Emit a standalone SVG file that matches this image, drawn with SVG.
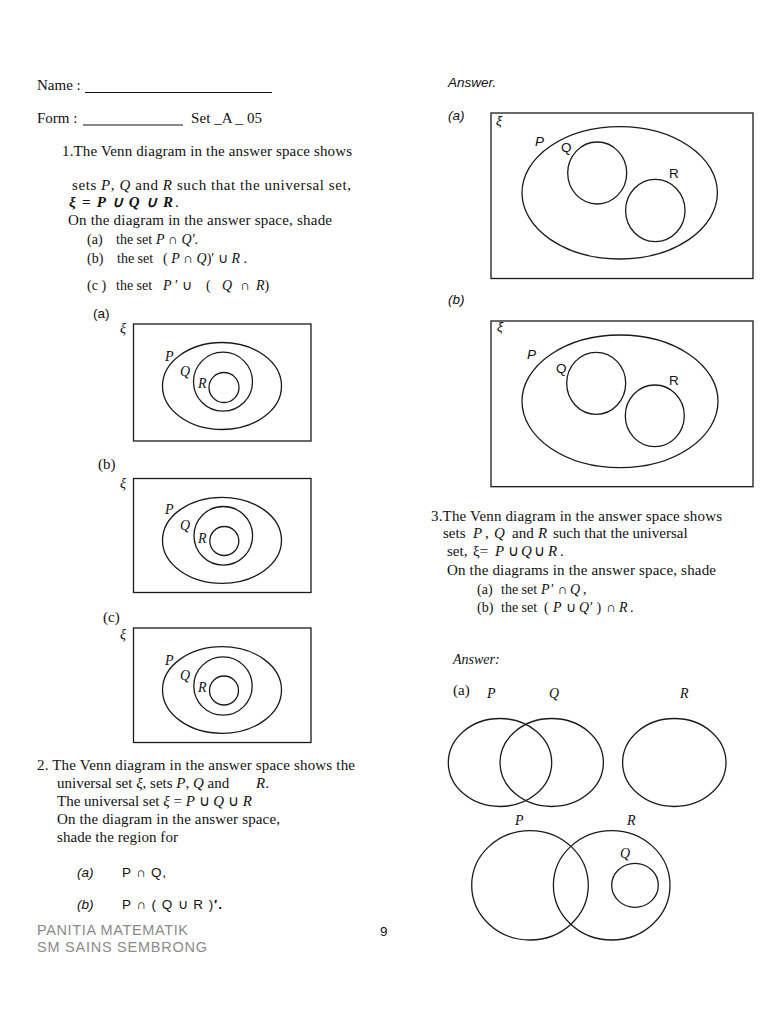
<svg xmlns="http://www.w3.org/2000/svg" width="768" height="1024" viewBox="0 0 768 1024">
<style>
.t{font-family:"Liberation Serif","Times New Roman",serif;font-size:15px;fill:#111}
.t14{font-size:14px}
.s{font-family:"Liberation Sans",Arial,sans-serif;font-size:13.5px;fill:#111}
.i{font-style:italic}
.lbl{font-family:"Liberation Serif","Times New Roman",serif;font-size:14px;font-style:italic;fill:#111}
.slbl{font-family:"Liberation Sans",Arial,sans-serif;font-size:13.5px;font-style:italic;fill:#111}
.f{font-family:"Liberation Sans",Arial,sans-serif;font-size:14.5px;fill:#8a8a8a}
.sh{fill:none;stroke:#1a1a1a;stroke-width:1.3}
</style>
<rect width="768" height="1024" fill="#fff"/>

<!-- Header -->
<text class="t" x="37" y="90">Name :</text>
<line x1="85" y1="92.5" x2="272" y2="92.5" stroke="#111" stroke-width="1"/>
<text class="t" x="37" y="123">Form :</text>
<line x1="83" y1="125" x2="183" y2="125" stroke="#111" stroke-width="1"/>
<text class="t" x="191" y="123" textLength="71">Set _A _ 05</text>

<!-- Question 1 -->
<text class="t" x="62" y="156" textLength="290">1.The Venn diagram in the answer space shows</text>
<text class="t" x="72" y="190" textLength="279">sets <tspan class="i">P</tspan>, <tspan class="i">Q</tspan> and <tspan class="i">R</tspan> such that the universal set,</text>
<text class="t i" x="69" y="207" font-weight="bold" textLength="104">ξ = P ∪ Q ∪ R</text>
<text class="t" x="175" y="207">.</text>
<text class="t" x="68" y="225" textLength="264">On the diagram in the answer space, shade</text>
<text class="t t14" x="87" y="244">(a)<tspan x="116">the set</tspan><tspan x="156" class="i">P ∩ Q′</tspan>.</text>
<text class="t t14" x="87" y="263">(b)<tspan x="117">the set</tspan><tspan x="163">( </tspan><tspan class="i">P ∩ Q</tspan>)′ ∪ <tspan class="i">R</tspan> .</text>
<text class="t t14" x="87" y="290">(c )<tspan x="116">the set</tspan><tspan x="163" class="i">P</tspan> ′ ∪ <tspan x="206">(</tspan><tspan x="222" class="i">Q</tspan><tspan x="240">∩</tspan><tspan x="256" class="i">R</tspan>)</text>

<!-- Q1 (a) -->
<g id="q1a">
<text class="s" x="93" y="318">(a)</text>
<text class="lbl" x="120" y="333" font-size="16">ξ</text>
<rect class="sh" x="133.5" y="324" width="177.5" height="117"/>
<ellipse class="sh" cx="222" cy="386" rx="59.5" ry="43.5"/>
<circle class="sh" cx="223" cy="381.7" r="29.5"/>
<circle class="sh" cx="224" cy="387.5" r="15"/>
<text class="lbl" x="165" y="361">P</text>
<text class="lbl" x="180" y="376">Q</text>
<text class="lbl" x="198" y="388">R</text>
</g>

<!-- Q1 (b) -->
<g id="q1b">
<text class="t" x="98" y="469">(b)</text>
<text class="lbl" x="120" y="488" font-size="16">ξ</text>
<rect class="sh" x="133.5" y="478.5" width="177.5" height="114"/>
<ellipse class="sh" cx="222" cy="540.3" rx="59.5" ry="43"/>
<circle class="sh" cx="223.3" cy="535.8" r="29.3"/>
<circle class="sh" cx="224.3" cy="541" r="14.5"/>
<text class="lbl" x="165" y="514">P</text>
<text class="lbl" x="180" y="530">Q</text>
<text class="lbl" x="198" y="543">R</text>
</g>

<!-- Q1 (c) -->
<g id="q1c">
<text class="t" x="103" y="622">(c)</text>
<text class="lbl" x="120" y="639" font-size="16">ξ</text>
<rect class="sh" x="133.5" y="628" width="177.5" height="114.5"/>
<ellipse class="sh" cx="222" cy="690" rx="59.5" ry="43.3"/>
<circle class="sh" cx="223" cy="686" r="29.2"/>
<circle class="sh" cx="224" cy="690.5" r="14.5"/>
<text class="lbl" x="165" y="665">P</text>
<text class="lbl" x="180" y="680">Q</text>
<text class="lbl" x="198" y="692">R</text>
</g>

<!-- Question 2 -->
<text class="t" x="37" y="770" textLength="318">2. The Venn diagram in the answer space shows the</text>
<text class="t" x="57" y="788">universal set <tspan class="i">ξ</tspan>, sets <tspan class="i">P</tspan>, <tspan class="i">Q</tspan> and<tspan x="256" class="i">R</tspan>.</text>
<text class="t" x="57" y="806">The universal set <tspan class="i">ξ</tspan> = <tspan class="i">P</tspan> ∪ <tspan class="i">Q</tspan> ∪ <tspan class="i">R</tspan></text>
<text class="t" x="57" y="824" textLength="223">On the diagram in the answer space,</text>
<text class="t" x="57" y="842" textLength="121">shade the region for</text>
<text class="slbl" x="77" y="877">(a)</text>
<text class="s" x="122" y="877" textLength="44">P ∩ Q,</text>
<text class="slbl" x="77" y="909">(b)</text>
<text class="s" x="122" y="909" textLength="100">P ∩ ( Q ∪ R )<tspan font-weight="bold">′.</tspan></text>

<!-- Footer -->
<text class="f" x="37" y="935" textLength="151">PANITIA MATEMATIK</text>
<text class="f" x="37" y="952" textLength="170">SM SAINS SEMBRONG</text>
<text class="s" x="380" y="936" font-size="13">9</text>

<!-- Right column answers -->
<text class="slbl" x="448" y="87">Answer.</text>
<g id="ra">
<text class="slbl" x="448" y="120">(a)</text>
<rect class="sh" x="491" y="113" width="262" height="165.5"/>
<text class="slbl" x="496" y="125" font-size="15">ξ</text>
<ellipse class="sh" cx="619.7" cy="192.8" rx="97.7" ry="66.2"/>
<ellipse class="sh" cx="597.2" cy="173" rx="29.5" ry="31"/>
<ellipse class="sh" cx="655.3" cy="210.5" rx="29.7" ry="31.2"/>
<text class="slbl" x="535" y="146">P</text>
<text class="s" x="561" y="152">Q</text>
<text class="s" x="669" y="178">R</text>
</g>

<g id="rb">
<text class="slbl" x="448" y="304">(b)</text>
<rect class="sh" x="491" y="321" width="262" height="165.7"/>
<text class="slbl" x="497" y="331" font-size="15">ξ</text>
<ellipse class="sh" cx="620" cy="401.3" rx="98" ry="66.3"/>
<ellipse class="sh" cx="596.2" cy="383.3" rx="29.5" ry="31"/>
<ellipse class="sh" cx="654.8" cy="415.8" rx="29.5" ry="30.8"/>
<text class="slbl" x="527" y="359">P</text>
<text class="s" x="556" y="373">Q</text>
<text class="s" x="669" y="385">R</text>
</g>

<!-- Question 3 -->
<text class="t" x="431" y="521" textLength="291">3.The Venn diagram in the answer space shows</text>
<text class="t" x="443" y="538">sets<tspan x="473" class="i">P</tspan><tspan x="485">,</tspan><tspan x="494" class="i">Q</tspan><tspan x="512">and</tspan><tspan x="538" class="i">R</tspan><tspan x="553">such that the universal</tspan></text>
<text class="t" x="447" y="556">set,<tspan x="473">ξ=</tspan><tspan x="495" class="i">P</tspan><tspan x="508">∪</tspan><tspan x="521" class="i">Q</tspan><tspan x="534">∪</tspan><tspan x="548" class="i">R</tspan><tspan x="560">.</tspan></text>
<text class="t" x="447" y="575" textLength="269">On the diagrams in the answer space, shade</text>
<text class="t t14" x="477" y="594">(a)<tspan x="501">the set</tspan><tspan x="541" class="i">P</tspan><tspan x="551">′ ∩</tspan><tspan x="570" class="i">Q</tspan><tspan x="583">,</tspan></text>
<text class="t t14" x="477" y="612">(b)<tspan x="501">the set</tspan><tspan x="544">(</tspan><tspan x="553" class="i">P</tspan><tspan x="566">∪</tspan><tspan x="579" class="i">Q</tspan><tspan x="590">′ )</tspan><tspan x="606">∩</tspan><tspan x="619" class="i">R</tspan><tspan x="630">.</tspan></text>

<text class="lbl" x="453" y="664" font-size="13.5">Answer:</text>
<g id="q3a">
<text class="t" x="453" y="695" font-size="14">(a)</text>
<text class="lbl" x="487" y="698">P</text>
<text class="lbl" x="549" y="698">Q</text>
<text class="lbl" x="680" y="698">R</text>
<ellipse class="sh" cx="500" cy="762.5" rx="51.7" ry="44"/>
<ellipse class="sh" cx="551.7" cy="762.5" rx="51.7" ry="44"/>
<ellipse class="sh" cx="674.3" cy="762.5" rx="51.7" ry="44"/>
</g>
<g id="q3b">
<text class="lbl" x="515" y="825">P</text>
<text class="lbl" x="627" y="825">R</text>
<text class="lbl" x="620" y="858">Q</text>
<ellipse class="sh" cx="530" cy="885.3" rx="58.3" ry="54.7"/>
<ellipse class="sh" cx="611.7" cy="885.3" rx="58.3" ry="54.7"/>
<ellipse class="sh" cx="635" cy="885.3" rx="23.3" ry="22"/>
</g>
</svg>
